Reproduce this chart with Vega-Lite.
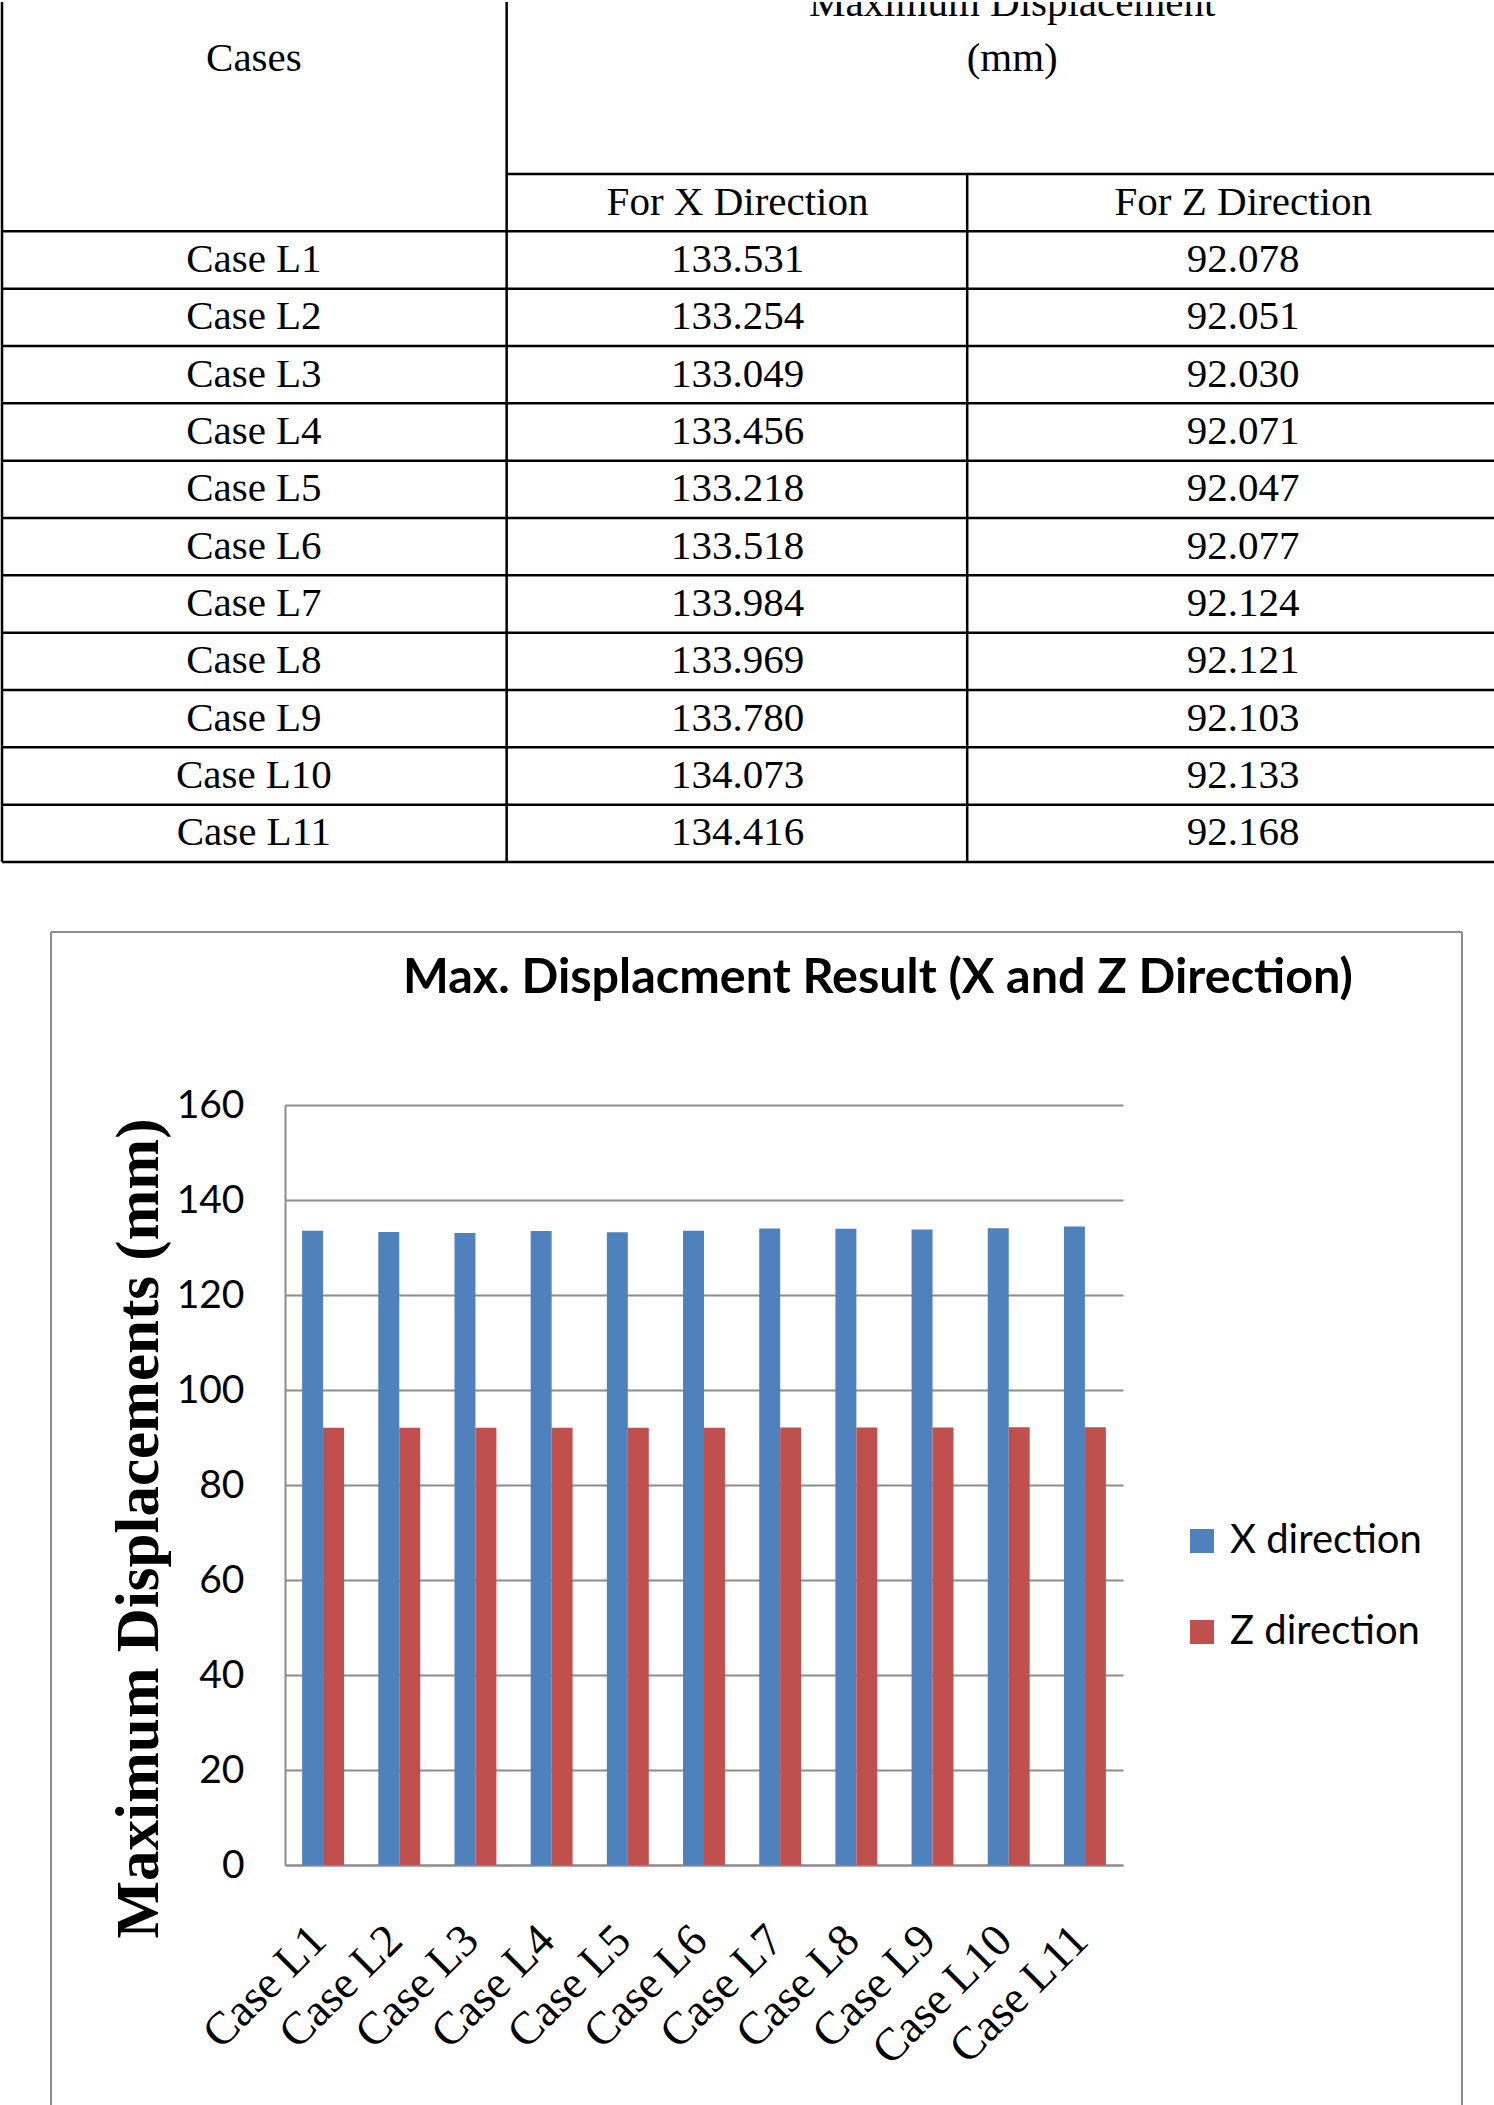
{
  "$schema": "https://vega.github.io/schema/vega-lite/v6.json",
  "padding": 0,
  "background": "white",
  "config": {"view": {"stroke": null}},
  "datasets": {
    "cases": [
      {"case": "Case L1", "X direction": 133.531, "Z direction": 92.078},
      {"case": "Case L2", "X direction": 133.254, "Z direction": 92.051},
      {"case": "Case L3", "X direction": 133.049, "Z direction": 92.030},
      {"case": "Case L4", "X direction": 133.456, "Z direction": 92.071},
      {"case": "Case L5", "X direction": 133.218, "Z direction": 92.047},
      {"case": "Case L6", "X direction": 133.518, "Z direction": 92.077},
      {"case": "Case L7", "X direction": 133.984, "Z direction": 92.124},
      {"case": "Case L8", "X direction": 133.969, "Z direction": 92.121},
      {"case": "Case L9", "X direction": 133.780, "Z direction": 92.103},
      {"case": "Case L10", "X direction": 134.073, "Z direction": 92.133},
      {"case": "Case L11", "X direction": 134.416, "Z direction": 92.168}
    ]
  },
  "resolve": {"legend": {"color": "independent"}, "scale": {"color": "independent"}},
  "concat": [
    {
      "width": 1227,
      "height": 860,
      "data": {"name": "cases"},
      "layer": [
        {
          "mark": {"type": "text", "font": "Liberation Serif", "fontSize": 41, "baseline": "middle", "color": "black"},
          "encoding": {
            "y": {"field": "case", "type": "nominal", "bandPosition": 0.5,
                  "scale": {"type": "band", "domain": ["h0","h1","h2","sub","Case L1","Case L2","Case L3","Case L4","Case L5","Case L6","Case L7","Case L8","Case L9","Case L10","Case L11"], "paddingInner": 0, "paddingOuter": 0},
                  "axis": null},
            "x": {"datum": 16.68, "type": "quantitative", "scale": {"domain": [18.741, 100], "nice": false, "zero": false}, "axis": null},
            "text": {"field": "case", "type": "nominal"}
          }
        },
        {
          "mark": {"type": "text", "font": "Liberation Serif", "fontSize": 41, "baseline": "middle", "color": "black"},
          "encoding": {
            "y": {"field": "case", "type": "nominal", "bandPosition": 0.5},
            "x": {"datum": 48.71, "type": "quantitative"},
            "text": {"field": "X direction", "type": "quantitative", "format": ".3f"}
          }
        },
        {
          "mark": {"type": "text", "font": "Liberation Serif", "fontSize": 41, "baseline": "middle", "color": "black"},
          "encoding": {
            "y": {"field": "case", "type": "nominal", "bandPosition": 0.5},
            "x": {"datum": 82.2, "type": "quantitative"},
            "text": {"field": "Z direction", "type": "quantitative", "format": ".3f"}
          }
        },
        {
          "data": {"values": [{}]},
          "mark": {"type": "text", "font": "Liberation Serif", "fontSize": 41, "baseline": "middle", "color": "black", "text": "Cases"},
          "encoding": {
            "y": {"datum": "h1", "type": "nominal", "bandPosition": 0},
            "x": {"datum": 16.68, "type": "quantitative"}
          }
        },
        {
          "data": {"values": [{}]},
          "mark": {"type": "text", "font": "Liberation Serif", "fontSize": 41, "baseline": "middle", "color": "black", "text": "Maximum Displacement", "clip": true},
          "encoding": {
            "y": {"datum": "h0", "type": "nominal", "bandPosition": 0.04},
            "x": {"datum": 66.9, "type": "quantitative"}
          }
        },
        {
          "data": {"values": [{}]},
          "mark": {"type": "text", "font": "Liberation Serif", "fontSize": 41, "baseline": "middle", "color": "black", "text": "(mm)"},
          "encoding": {
            "y": {"datum": "h1", "type": "nominal", "bandPosition": 0},
            "x": {"datum": 66.9, "type": "quantitative"}
          }
        },
        {
          "data": {"values": [{}]},
          "mark": {"type": "text", "font": "Liberation Serif", "fontSize": 41, "baseline": "middle", "color": "black", "text": "For X Direction"},
          "encoding": {
            "y": {"datum": "sub", "type": "nominal", "bandPosition": 0.5},
            "x": {"datum": 48.71, "type": "quantitative"}
          }
        },
        {
          "data": {"values": [{}]},
          "mark": {"type": "text", "font": "Liberation Serif", "fontSize": 41, "baseline": "middle", "color": "black", "text": "For Z Direction"},
          "encoding": {
            "y": {"datum": "sub", "type": "nominal", "bandPosition": 0.5},
            "x": {"datum": 82.2, "type": "quantitative"}
          }
        },
        {
          "mark": {"type": "rule", "color": "black", "strokeWidth": 2.5},
          "encoding": {
            "y": {"field": "case", "type": "nominal", "bandPosition": 1},
            "x": {"datum": 0, "type": "quantitative"},
            "x2": {"datum": 100}
          }
        },
        {
          "data": {"values": [{}]},
          "mark": {"type": "rule", "color": "black", "strokeWidth": 2.5},
          "encoding": {
            "y": {"datum": "sub", "type": "nominal", "bandPosition": 1},
            "x": {"datum": 0, "type": "quantitative"},
            "x2": {"datum": 100}
          }
        },
        {
          "data": {"values": [{}]},
          "mark": {"type": "rule", "color": "black", "strokeWidth": 2.5},
          "encoding": {
            "y": {"datum": "h2", "type": "nominal", "bandPosition": 1},
            "x": {"datum": 33.42, "type": "quantitative"},
            "x2": {"datum": 100}
          }
        },
        {
          "data": {"values": [{"b": 0}, {"b": 33.42}, {"b": 100}]},
          "mark": {"type": "rule", "color": "black", "strokeWidth": 2.5},
          "encoding": {
            "x": {"field": "b", "type": "quantitative"}
          }
        },
        {
          "data": {"values": [{}]},
          "mark": {"type": "rule", "color": "black", "strokeWidth": 2.5},
          "encoding": {
            "x": {"datum": 63.92, "type": "quantitative"},
            "y": {"datum": "sub", "type": "nominal", "bandPosition": 0},
            "y2": {"value": "height"}
          }
        }
      ]
    },
    {
      "width": 838,
      "height": 760,
      "layer": [
        {
          "data": {"values": [{}]},
          "layer": [
            {
              "mark": {"type": "rule", "color": "#8c8c8c", "strokeWidth": 2},
              "encoding": {
                "x": {"datum": -0.2792, "type": "quantitative", "scale": {"domain": [0, 1], "nice": false, "zero": false}, "axis": null},
                "y": {"datum": 196.42, "type": "quantitative"},
                "y2": {"datum": -50.95}
              }
            },
            {
              "mark": {"type": "rule", "color": "#8c8c8c", "strokeWidth": 2},
              "encoding": {
                "x": {"datum": 1.4045, "type": "quantitative"},
                "y": {"datum": 196.42, "type": "quantitative"},
                "y2": {"datum": -50.95}
              }
            },
            {
              "mark": {"type": "rule", "color": "#8c8c8c", "strokeWidth": 2},
              "encoding": {
                "x": {"datum": -0.2792, "type": "quantitative"},
                "x2": {"datum": 1.4045},
                "y": {"datum": 196.42, "type": "quantitative"}
              }
            },
            {
              "mark": {"type": "text", "text": "Max. Displacment Result (X and Z Direction)", "font": "Lato", "fontWeight": "bold", "fontSize": 48.5, "color": "black", "align": "center", "baseline": "alphabetic"},
              "encoding": {
                "x": {"datum": 0.7076, "type": "quantitative"},
                "y": {"datum": 183.6, "type": "quantitative"}
              }
            }
          ]
        },
        {
          "data": {"name": "cases"},
          "transform": [{"fold": ["X direction", "Z direction"], "as": ["dir", "value"]}],
          "mark": {"type": "bar"},
          "encoding": {
            "x": {
              "field": "case", "type": "nominal",
              "scale": {"domain": ["Case L1","Case L2","Case L3","Case L4","Case L5","Case L6","Case L7","Case L8","Case L9","Case L10","Case L11"], "paddingInner": 0.45, "paddingOuter": 0.225},
              "axis": {"orient": "bottom", "title": null, "labelFont": "Liberation Serif", "labelFontSize": 46, "labelAngle": -45, "labelAlign": "right", "labelBaseline": "top", "labelPadding": 52, "labelOffset": -20, "labelColor": "black", "ticks": false, "domainColor": "#8c8c8c", "domainWidth": 2}
            },
            "xOffset": {"field": "dir", "type": "nominal", "scale": {"domain": ["X direction", "Z direction"], "paddingInner": 0, "paddingOuter": 0}},
            "y": {
              "field": "value", "type": "quantitative",
              "scale": {"domain": [0, 160], "nice": false},
              "axis": {"title": "Maximum Displacements (mm)", "titleFont": "Liberation Serif", "titleFontWeight": "bold", "titleFontSize": 61, "titleColor": "black", "titlePadding": 6, "titleY": 423,
                       "values": [0, 20, 40, 60, 80, 100, 120, 140, 160], "labelFont": "Lato", "labelFontSize": 39, "labelColor": "black", "labelPadding": 41, "ticks": false,
                       "grid": true, "gridColor": "#8c8c8c", "gridWidth": 2, "domainColor": "#8c8c8c", "domainWidth": 2}
            },
            "color": {
              "field": "dir", "type": "nominal",
              "scale": {"domain": ["X direction", "Z direction"], "range": ["#4F81BD", "#C0504D"]},
              "legend": {"title": null, "orient": "none", "legendX": 897, "legendY": 416, "padding": 0, "symbolType": "square", "symbolSize": 576, "symbolStrokeWidth": 0, "labelFont": "Lato", "labelFontSize": 40, "labelColor": "black", "labelOffset": 8, "labelLimit": 400, "rowPadding": 51}
            }
          }
        }
      ],
      "resolve": {"scale": {"x": "independent"}}
    }
  ],
  "columns": 1,
  "spacing": 67
}
